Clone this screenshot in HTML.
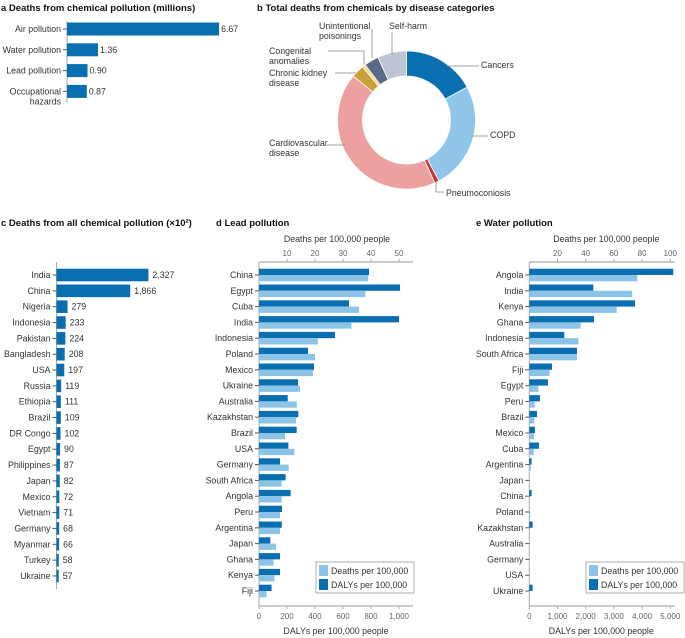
<!DOCTYPE html>
<html><head><meta charset="utf-8"><style>
body{margin:0;background:#fff;}
svg{display:block;font-family:"Liberation Sans",sans-serif;}
.t{font-size:9.5px;font-weight:bold;fill:#111;}
.l{font-size:8.8px;fill:#333;}
.k{font-size:8px;fill:#666;}
</style></head><body>
<svg id="s" width="685" height="638" viewBox="0 0 685 638">
<text class="t" x="1" y="11">a  Deaths from chemical pollution (millions)</text>
<text class="t" x="257" y="11">b  Total deaths from chemicals by disease categories</text>
<text class="t" x="1" y="226">c  Deaths from all chemical pollution (×10²)</text>
<text class="t" x="216" y="226">d  Lead pollution</text>
<text class="t" x="476" y="226">e  Water pollution</text>
<g id="ga"></g><g id="gb"></g><g id="gc"></g><g id="gd"></g><g id="ge"></g>
</svg>
<script>
const aCats=["Air pollution","Water pollution","Lead pollution","Occupational"];
const aVals=[6.67,1.36,0.90,0.87];
const aLabels=["6.67","1.36","0.90","0.87"];
const bCats=["Cancers","COPD","Pneumoconiosis","Cardiovascular disease","Chronic kidney disease","Congenital anomalies","Unintentional poisonings","Self-harm"];
const bVals=[17.1,25.1,1.1,42.7,3.0,0.8,3.4,6.8];
const cCats=["India","China","Nigeria","Indonesia","Pakistan","Bangladesh","USA","Russia","Ethiopia","Brazil","DR Congo","Egypt","Philippines","Japan","Mexico","Vietnam","Germany","Myanmar","Turkey","Ukraine"];
const cVals=[2327,1866,279,233,224,208,197,119,111,109,102,90,87,82,72,71,68,66,58,57];
const dCats=["China","Egypt","Cuba","India","Indonesia","Poland","Mexico","Ukraine","Australia","Kazakhstan","Brazil","USA","Germany","South Africa","Angola","Peru","Argentina","Japan","Ghana","Kenya","Fiji"];
const dDalys=[786,1007,643,1000,543,350,393,279,205,281,269,210,150,190,226,164,163,81,150,150,90];
const dDeaths=[39,38,35.7,33,21,20,19.3,14.6,13.5,13.2,9.3,12.6,10.6,8.1,8.1,7.5,7.5,6.1,5.2,5.5,2.7];
const dTopTicks=[10,20,30,40,50];
const dBotTicks=[0,200,400,600,800,1000];
const eCats=["Angola","India","Kenya","Ghana","Indonesia","South Africa","Fiji","Egypt","Peru","Brazil","Mexico","Cuba","Argentina","Japan","China","Poland","Kazakhstan","Australia","Germany","USA","Ukraine"];
const eDalys=[5106,2270,3748,2294,1241,1690,804,662,378,272,201,343,83,0,83,0,118,0,0,0,118];
const eDeaths=[76.6,73,62,36.4,34.8,33.8,14.4,6.4,3.8,3.5,3.3,3.1,1,0,0.3,0.7,0.3,0,0,0,0.3];
const eTopTicks=[20,40,60,80,100];
const eBotTicks=[0,1000,2000,3000,4000,5000];
const DARK="#0a6fb0",LIGHT="#8cc4e8",AX="#aaa";
const NS="http://www.w3.org/2000/svg";
function mk(p,tag,at,txt){const e=document.createElementNS(NS,tag);for(const k in at)e.setAttribute(k,at[k]);if(txt!==undefined)e.textContent=txt;p.appendChild(e);return e;}
function fmt(v){return v.toLocaleString("en-US");}
// panel a
(function(){const g=document.getElementById("ga");const x0=67,sx=22.8,y0=29,st=20.8;
const ax=mk(g,"line",{x1:x0,y1:21,x2:x0,y2:103,stroke:AX});

aCats.forEach((c,i)=>{const y=y0+i*st;
const r=mk(g,"rect",{x:x0,y:y-6.5,width:aVals[i]*sx,height:13,fill:DARK});

mk(g,"line",{x1:x0-4,y1:y,x2:x0,y2:y,stroke:"#555"});
const t=mk(g,"text",{class:"l",x:x0-6,y:y+3,"text-anchor":"end"},c);

if(i==3){const t2=mk(g,"text",{class:"l",x:x0-6,y:y+13,"text-anchor":"end"},"hazards");}
const v=mk(g,"text",{class:"l",x:x0+aVals[i]*sx+2,y:y+3},aLabels[i]);
});})();
// panel b donut
(function(){const g=document.getElementById("gb");const cx=406.5,cy=120,R=69,r=44;
const cols=["#0a6fb0","#8ec5e8","#c8373a","#eda0a0","#c9a03a","#f2d889","#5a6a85","#bfc6d3"];
const tot=bVals.reduce((a,b)=>a+b,0);let a0=0;
const P=(a,rad)=>[cx+rad*Math.sin(a),cy-rad*Math.cos(a)];
bVals.forEach((v,i)=>{const a1=a0+v/tot*2*Math.PI;const lg=(a1-a0)>Math.PI?1:0;
const p1=P(a0,R),p2=P(a1,R),p3=P(a1,r),p4=P(a0,r);
const s=mk(g,"path",{d:`M${p1}A${R},${R} 0 ${lg} 1 ${p2}L${p3}A${r},${r} 0 ${lg} 0 ${p4}Z`,fill:cols[i],stroke:"#fff","stroke-width":0.8});
a0=a1;});
const labs=[[481,68,["Cancers"]],[490,138,["COPD"]],[446,196,["Pneumoconiosis"]],[269,146,["Cardiovascular","disease"]],[269,76,["Chronic kidney","disease"]],[269,54,["Congenital","anomalies"]],[319,29,["Unintentional","poisonings"]],[389,29,["Self-harm"]]];
const lines=[[446,66,479,66],[471,136,488,136],[436,182,436,192,444,192],[327,145,345,145],[335,73,356,73],[328,51,364,51,364,65],[372,29,372,58],[392,32,392,55]];
labs.forEach((L,i)=>{L[2].forEach((s,j)=>{const t=mk(g,"text",{class:"l",x:L[0],y:L[1]+j*10},s);});});
lines.forEach(l=>{let d="M"+l[0]+","+l[1];for(let k=2;k<l.length;k+=2)d+="L"+l[k]+","+l[k+1];mk(g,"path",{d:d,stroke:"#888",fill:"none","stroke-width":0.8});});})();
// panel c
(function(){const g=document.getElementById("gc");const x0=56.5,sx=0.0395,y0=275,st=15.84;
mk(g,"line",{x1:x0,y1:262,x2:x0,y2:589,stroke:AX});
cCats.forEach((c,i)=>{const y=y0+i*st;
const r=mk(g,"rect",{x:x0,y:y-6.3,width:Math.max(cVals[i]*sx,2),height:12.6,fill:DARK});

mk(g,"line",{x1:x0-4,y1:y,x2:x0,y2:y,stroke:"#555"});
const t=mk(g,"text",{class:"l",x:x0-6,y:y+3,"text-anchor":"end"},c);

const v=mk(g,"text",{class:"l",x:x0+Math.max(cVals[i]*sx,2)+4,y:y+3},fmt(cVals[i]));
});})();
function dual(id,cats,dalys,deaths,topT,botT,x0,sD,sY,lx,name){
const g=document.getElementById(id);const y0=275,st=15.8;
const xmax=x0+(name=="d"?154:145);
mk(g,"line",{x1:x0,y1:262,x2:xmax,y2:262,stroke:AX,"stroke-width":1.2});
mk(g,"line",{x1:x0,y1:262,x2:x0,y2:606,stroke:AX});
mk(g,"line",{x1:x0,y1:606,x2:xmax,y2:606,stroke:AX,"stroke-width":1.2});
const tt=mk(g,"text",{class:"l",x:x0+(name=="d"?78:77),y:242,"text-anchor":"middle"},"Deaths per 100,000 people");

topT.forEach(v=>{const x=x0+v*sD;mk(g,"line",{x1:x,y1:259,x2:x,y2:262,stroke:AX});
const t=mk(g,"text",{class:"k",x:x,y:256,"text-anchor":"middle"},fmt(v));});
botT.forEach(v=>{const x=x0+v*sY;mk(g,"line",{x1:x,y1:606,x2:x,y2:609,stroke:AX});
const t=mk(g,"text",{class:"k",x:x,y:619,"text-anchor":"middle"},fmt(v));});
const bt=mk(g,"text",{class:"l",x:x0+(name=="d"?77:72),y:634,"text-anchor":"middle"},"DALYs per 100,000 people");

cats.forEach((c,i)=>{const y=y0+i*st;
const a=mk(g,"rect",{x:x0,y:y-6.3,width:dalys[i]*sY,height:6.3,fill:DARK});

const b=mk(g,"rect",{x:x0,y:y,width:deaths[i]*sD,height:6.3,fill:LIGHT});

mk(g,"line",{x1:x0-4,y1:y,x2:x0,y2:y,stroke:"#555"});
const t=mk(g,"text",{class:"l",x:x0-6,y:y+3,"text-anchor":"end"},c);
});
const lg=mk(g,"g",{});
mk(lg,"rect",{x:lx,y:562,width:98,height:31,fill:"#fff",stroke:"#999","stroke-width":0.8});
mk(lg,"rect",{x:lx+3,y:565,width:9,height:11,fill:LIGHT});
mk(lg,"rect",{x:lx+3,y:579,width:9,height:11,fill:DARK});
mk(lg,"text",{class:"l",x:lx+15,y:574},"Deaths per 100,000");
mk(lg,"text",{class:"l",x:lx+15,y:588},"DALYs per 100,000");}
dual("gd",dCats,dDalys,dDeaths,dTopTicks,dBotTicks,259,2.8,0.14,316,"d");
dual("ge",eCats,eDalys,eDeaths,eTopTicks,eBotTicks,529.3,1.41,0.0282,586,"e");
</script>
</body></html>
